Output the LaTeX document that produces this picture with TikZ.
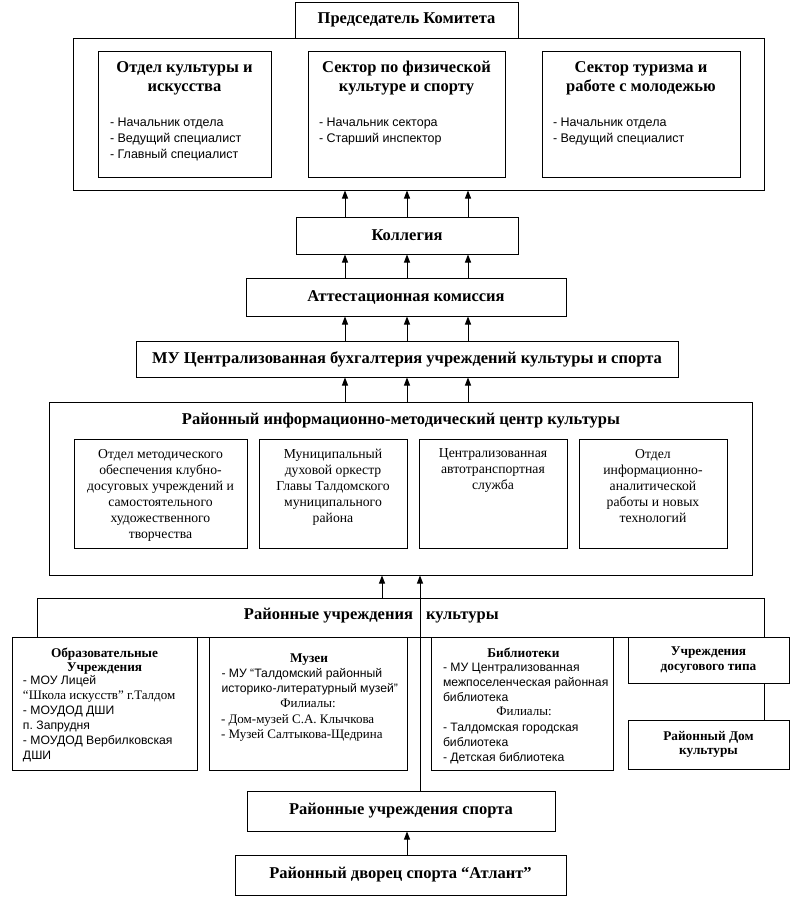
\documentclass[tikz,border=0pt]{standalone}
\usepackage{fontspec}
\setmainfont{Liberation Serif}
\setsansfont{Liberation Sans}
\usetikzlibrary{arrows.meta}
\frenchspacing
\newcommand\fT{\fontsize{16.5}{19}\selectfont\bfseries}
\newcommand\fLs{\fontsize{12.5}{16}\selectfont\sffamily}
\newcommand\fC{\fontsize{13.7}{16}\selectfont}
\newcommand\fM{\fontsize{16.5}{19}\selectfont\bfseries}
\newcommand\fSs{\fontsize{12.2}{15}\selectfont\sffamily}
\newcommand\fSr{\fontsize{13}{15}\selectfont\rmfamily}
\newcommand\fSB{\fontsize{13.3}{14.6}\selectfont\bfseries}
\begin{document}
\begin{tikzpicture}[x=1pt,y=-1pt,
  box/.style={draw, line width=1pt, inner sep=0pt},
  txt/.style={inner sep=0pt, outer sep=0pt},
  arr/.style={line width=1pt, -{Triangle[length=8pt,width=6pt]}},
  conn/.style={line width=1pt}]
\useasboundingbox (0,0) rectangle (800,897);
\fill[white] (0,0) rectangle (800,897);

% guide coordinates for connector columns
\coordinate (ax1) at (345,0);
\coordinate (ax2) at (407,0);
\coordinate (ax3) at (468,0);
\coordinate (ax4) at (382,0);
\coordinate (ax5) at (420,0);

% ---- top block
\node[box, minimum width=223pt, minimum height=36pt, font=\fT] (pred) at (406.5,20) {Председатель Комитета};
\node[box, minimum width=691pt, minimum height=152pt] (top) at (418.5,114) {};
\node[box, minimum width=173pt, minimum height=126pt] (otd) at (184.5,114) {};
\node[box, minimum width=197pt, minimum height=126pt] (fiz) at (406.5,114) {};
\node[box, minimum width=198pt, minimum height=126pt] (tur) at (641,114) {};

\node[txt, font=\fT, align=center, anchor=north] at (184.5,61.5) {Отдел культуры и\\искусства};
\node[txt, font=\fT, align=center, anchor=north] at (406.5,61.5) {Сектор по физической\\культуре и спорту};
\node[txt, font=\fT, align=center, anchor=north] at (641,61.5) {Сектор туризма и\\работе с молодежью};

\node[txt, font=\fLs, align=left, anchor=north west] at (110,117.5) {- Начальник отдела\\- Ведущий специалист\\- Главный специалист};
\node[txt, font=\fLs, align=left, anchor=north west] at (319,117.5) {- Начальник сектора\\- Старший инспектор};
\node[txt, font=\fLs, align=left, anchor=north west] at (553,117.5) {- Начальник отдела\\- Ведущий специалист};

% ---- middle chain
\node[box, minimum width=222pt, minimum height=37pt, font=\fM] (kol) at (407,235.5) {Коллегия};
\node[box, minimum width=320pt, minimum height=38pt, font=\fM] (att) at (406,297) {Аттестационная комиссия};
\node[box, minimum width=542pt, minimum height=36pt, font=\fM] (mu) at (407,359) {МУ Централизованная бухгалтерия учреждений культуры и спорта};

% ---- centre
\node[box, minimum width=703pt, minimum height=173pt] (cen) at (400.5,488.5) {};
\node[txt, font=\fontsize{16.5}{19}\selectfont\bfseries, anchor=base] at (401,424.5) {Районный информационно-методический центр культуры};
\node[box, minimum width=173pt, minimum height=109pt] (c1) at (160.5,493.5) {};
\node[box, minimum width=148pt, minimum height=109pt] (c2) at (333,493.5) {};
\node[box, minimum width=148pt, minimum height=109pt] (c3) at (493,493.5) {};
\node[box, minimum width=148pt, minimum height=109pt] (c4) at (653,493.5) {};
\node[txt, font=\fC, align=center, anchor=north] at (160.5,449) {Отдел методического\\обеспечения клубно-\\досуговых учреждений и\\самостоятельного\\художественного\\творчества};
\node[txt, font=\fC, align=center, anchor=north] at (333,449) {Муниципальный\\духовой оркестр\\Главы Талдомского\\муниципального\\района};
\node[txt, font=\fC, align=center, anchor=north] at (493,449) {Централизованная\\автотранспортная\\служба};
\node[txt, font=\fC, align=center, anchor=north] at (653,449) {Отдел\\информационно-\\аналитической\\работы и новых\\технологий};

% ---- culture
\node[box, minimum width=727pt, minimum height=39pt] (cult) at (400.5,617.5) {};
\node[txt, font=\fM, anchor=base east] at (413,619) {Районные учреждения};
\node[txt, font=\fM, anchor=base west] at (426,619) {культуры};

\node[box, minimum width=185pt, minimum height=133pt] (l1) at (104.5,703.5) {};
\node[box, minimum width=198pt, minimum height=133pt] (l2) at (308,703.5) {};
\node[box, minimum width=182pt, minimum height=133pt] (l3) at (522,703.5) {};
\node[box, minimum width=161pt, minimum height=46pt, font=\fSB, align=center] (l4) at (708.5,660) {Учреждения\\досугового типа};
\node[box, minimum width=161pt, minimum height=49pt, font=\fSB, align=center] (l5) at (708.5,744.5) {Районный Дом\\культуры};

\node[txt, font=\fSB, align=center, anchor=north] at (104.5,647.5) {Образовательные\\Учреждения};
\node[txt, font=\fSs, align=left, anchor=north west] at (23,675.6) {- МОУ Лицей\\{\fSr “Школа искусств” г.Талдом}\\- МОУДОД ДШИ\\п. Запрудня\\- МОУДОД Вербилковская\\ДШИ};

\node[txt, font=\fSB, anchor=north] at (309,654.2) {Музеи};
\node[txt, font=\fSs, align=left, anchor=north west] at (221.5,668.6) {- МУ “Талдомский районный\\историко-литературный музей”};
\node[txt, font=\fSr, anchor=north] at (308,699.1) {Филиалы:};
\node[txt, font=\fSr, align=left, anchor=north west] at (221,714.1) {- Дом-музей С.А. Клычкова\\- Музей Салтыкова-Щедрина};

\node[txt, font=\fSB, anchor=north] at (523.5,647.5) {Библиотеки};
\node[txt, font=\fSs, align=left, anchor=north west] at (443,662.6) {- МУ Централизованная\\межпоселенческая районная\\библиотека};
\node[txt, font=\fSr, anchor=north] at (524,707.4) {Филиалы:};
\node[txt, font=\fSs, align=left, anchor=north west] at (443,722.6) {- Талдомская городская\\библиотека\\- Детская библиотека};

% ---- sport
\node[box, minimum width=308pt, minimum height=40pt, font=\fM] (sport) at (401,811) {Районные учреждения спорта};
\node[box, minimum width=331pt, minimum height=40pt, font=\fM] (atl) at (400.5,875) {Районный дворец спорта “Атлант”};

% ---- connectors
\foreach \c in {ax1,ax2,ax3} {
  \draw[arr] (kol.north -| \c) -- (top.south -| \c);
  \draw[arr] (att.north -| \c) -- (kol.south -| \c);
  \draw[arr] (mu.north -| \c) -- (att.south -| \c);
  \draw[arr] (cen.north -| \c) -- (mu.south -| \c);
}
\draw[arr] (cult.north -| ax4) -- (cen.south -| ax4);
\draw[arr] (sport.north -| ax5) -- (cen.south -| ax5);
\draw[arr] (atl.north -| ax2) -- (sport.south -| ax2);
\draw[conn] (l4.south -| cult.east) -- (l5.north -| cult.east);
\end{tikzpicture}
\end{document}
